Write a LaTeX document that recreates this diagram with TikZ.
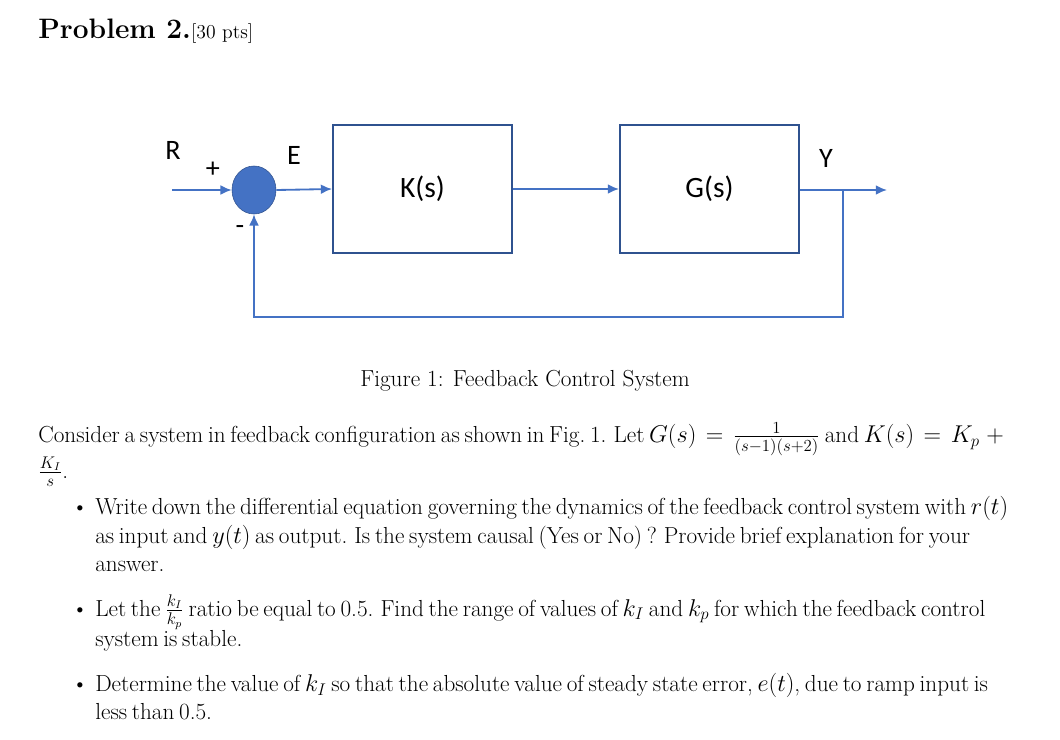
\documentclass[tikz,border=0pt]{standalone}
\usepackage{fontspec}
\usepackage{amsmath}
\setmainfont{Latin Modern Roman}
\newfontfamily\diag{Carlito}
\usepackage{enumitem}
\usetikzlibrary{arrows.meta,shapes.geometric}
\definecolor{bl}{RGB}{68,114,196}
\definecolor{bd}{RGB}{47,82,143}
\begin{document}
\begin{tikzpicture}[x=0.025cm,y=-0.025cm,
  blk/.style={draw=bd,line width=1.3pt,minimum width=4.475cm,minimum height=3.2cm,font=\diag\fontsize{21}{24}\selectfont},
  sig/.style={draw=bl,line width=1.3pt,-{Latex[length=8pt,width=7pt]}},
  lab/.style={font=\diag\fontsize{20}{24}\selectfont}]
\useasboundingbox (0,0) rectangle (1060,739);
\node[anchor=base west,inner sep=0] (t) at (38,38) {\fontsize{20}{24}\selectfont\bfseries Problem 2.\mdseries\fontsize{14}{16}\selectfont[30 pts]};
\node[ellipse,fill=bl,draw=bd,minimum width=1.1cm,minimum height=1.2cm,inner sep=0] (c) at (254,190) {};
\node[blk] (k) at (422.5,189) {K(s)};
\node[blk] (g) at (709.5,189) {G(s)};
\coordinate (in) at (172,190);
\coordinate (out) at (887,190);
\coordinate (br) at (843,190);
\coordinate (bb) at (843,317);
\coordinate (bc) at (254,317);
\draw[sig] (in) -- (c.west);
\draw[sig] (c.east) -- (k.west);
\draw[sig] (k.east) -- (k.east-|g.west);
\draw[sig] (g.east|-out) -- (out);
\draw[sig] (br) -- (bb) -- (bc) -- (c.south);
\node[lab] (R) at (173,150) {R};
\node[lab] (p) at (213,170) {+};
\node[lab] (E) at (294,155) {E};
\node[lab] (m) at (240,230) {-};
\node[lab] (Y) at (826,158) {Y};
\node (cap) at (525,381) {\fontsize{16.5}{20}\selectfont Figure 1: Feedback Control System};
\node[anchor=north west,inner sep=0,text width=24.425cm] (body) at (38,422) {\fontsize{16.5}{20}\selectfont
Consider a system in feedback configuration as shown in Fig.\ 1. Let $G(s) = \frac{1}{(s-1)(s+2)}$ and $K(s) = K_p + \frac{K_I}{s}$.
\begin{itemize}[leftmargin=1.425cm,itemsep=8pt,topsep=6pt]
\item Write down the differential equation governing the dynamics of the feedback control system with $r(t)$ as input and $y(t)$ as output. Is the system causal (Yes or No) ? Provide brief explanation for your answer.
\item Let the $\frac{k_I}{k_p}$ ratio be equal to 0.5. Find the range of values of $k_I$ and $k_p$ for which the feedback control system is stable.
\item Determine the value of $k_I$ so that the absolute value of steady state error, $e(t)$, due to ramp input is less than 0.5.
\end{itemize}};
\end{tikzpicture}
\end{document}
